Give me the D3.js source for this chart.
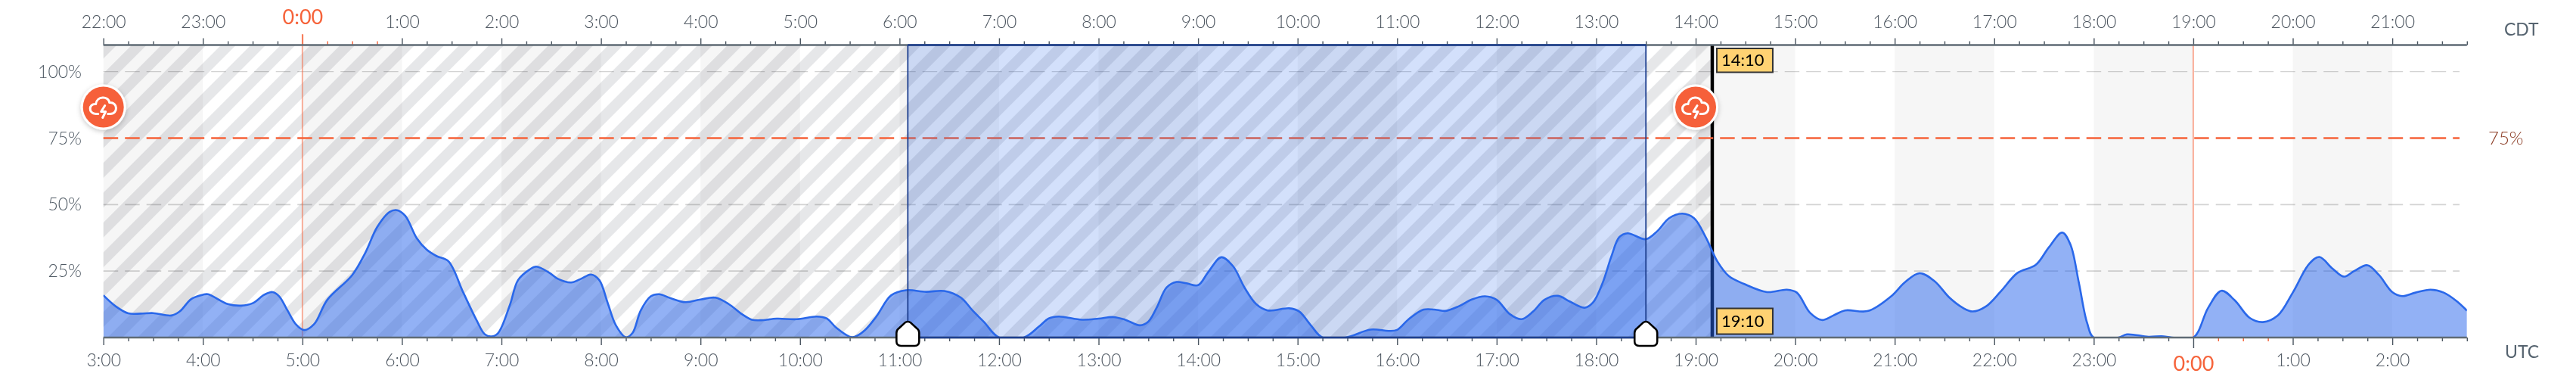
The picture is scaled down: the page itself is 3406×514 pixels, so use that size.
<!DOCTYPE html>
<html><head><meta charset="utf-8">
<script src="https://cdn.jsdelivr.net/npm/d3@7"></script>
<style>html,body{margin:0;padding:0;background:#fff}svg{display:block}text{font-family:Lato,"Open Sans",sans-serif}</style>
</head><body><svg id="c" width="3406" height="514"></svg>
<script>
const cdtLabels=["22:00","23:00","0:00","1:00","2:00","3:00","4:00","5:00","6:00","7:00","8:00","9:00","10:00","11:00","12:00","13:00","14:00","15:00","16:00","17:00","18:00","19:00","20:00","21:00"];
const utcLabels=["3:00","4:00","5:00","6:00","7:00","8:00","9:00","10:00","11:00","12:00","13:00","14:00","15:00","16:00","17:00","18:00","19:00","20:00","21:00","22:00","23:00","0:00","1:00","2:00"];
const minutes=[0,7.5,15,22.5,30,41,46,53,60,63,75,83,90,97,102,106,111,116,121,127,135,150,158,165,172.5,177,182,189,195,201,208,217,225,230,234,238,245,250,
257,261,269,274,282,288,294,299,304,309,315,319,324,330,335,342,351,360,369,377,385,391,396,406,418,430,436,442,450,453,459,466,475,484,496,507,517,524,531,
540,555,564,570,576,590,600,609,616,625,630,635,641,647,653,660,666,674,681,688,695,702,715,721,728,735,749,764,775,780,787,796,804,
809,817,825,833,840,848,855,862,869,877,884,893,898,904,909,914,919,930,937,944,952,959,966,973,980,989,1003,1015,1021,1029,1036,1043,1050,1064,1078,
1086,1095,1104,1113,1121,1127,1135,1144,1154,1165,1173,1181,1186,1191,1196,1200,1215,1220,1233,1241,1247,1260,1269,1277,1285,1294,1302,1311,1320,1330,1336,1344,1351,1357,1365,1372,1380,1386,1394,1403,1411,1419,1425];
const usage=[15.9,11.7,9.1,9,9.2,8.3,9.8,14.5,16.1,16.3,12.6,12,12.9,16.1,17.1,15.5,10.2,5,2.8,5,14.2,23.5,32,41.5,47.2,47.9,45.8,37.3,33,30.6,28.7,16.9,6.5,1.2,.4,1.7,12.1,21.6,
25.6,26.7,24.3,22.1,20.7,22.1,23.7,21.6,13.1,4.6,.1,1.7,10.2,15.5,16.3,14.8,13.3,14.3,15,12.6,8.8,6.7,6.5,7.1,6.9,7.9,7.2,3.6,.3,.3,2.7,7.9,15.9,17.8,17.2,17.5,15,10.2,5.8,
0,0,4.1,7.2,7.9,6.7,7.1,7.7,6.7,4.6,6,11.2,18.8,20.9,20.4,19.7,24.5,30.2,26.9,18.8,12.6,10.2,11,9.8,4.6,0,0,3,2.5,2.9,6.9,10.5,10.4,
10,11.7,14.3,15.5,14.2,8.8,6.9,9.8,14.3,15.7,13.6,11.2,13.1,20.7,30.2,37.8,39.2,37,40.1,44.9,46.6,44.9,37.8,28.7,23.1,20.2,17.1,18,16.9,9.3,6.6,8.3,10.2,10,15.6,
20.7,24.2,21.2,15,11.2,9.8,11.7,17.4,24.3,27.3,34,39.5,34.9,20.7,5.5,0,0,1.2,.3,.5,0,0,11.2,17.6,14,7.4,5.8,8.3,16.9,27.8,30.3,25.9,22.9,25,27.2,23.5,17.1,15.6,16.9,18,16.9,13.6,10.1];
const yTicks=[100,75,50,25];
const selection=[485,930];
const nowMinute=970;
const nowLabels=["14:10","19:10"];
const alertMinutes=[0,960];
const domainEnd=1425, threshold=75;

const svg=d3.select("#c");
const x=d3.scaleLinear().domain([0,domainEnd]).range([136.7,3261.8]);
const y=d3.scaleLinear().domain([0,100]).range([446,94.7]);
const top_=59.5, base=446;
const hours=d3.range(0,24).map(i=>i*60);
const quarters=d3.range(0,domainEnd+1,15).filter(m=>m%60);

const defs=svg.append("defs");
function hatch(id,tile,tx){
 const pat=defs.append("pattern").attr("id",id).attr("patternUnits","userSpaceOnUse").attr("width",tile).attr("height",tile).attr("patternTransform",`translate(${tx},0) rotate(45)`);
 pat.append("rect").attr("width",tile/2).attr("height",tile).attr("fill","#e6e7e9");
}
hatch("hatchA",27.86,194.3);
hatch("hatchB",28.28,2260);
const sh=defs.append("filter").attr("id","sh").attr("x","-30%").attr("y","-30%").attr("width","160%").attr("height","160%");
sh.append("feDropShadow").attr("dx",0).attr("dy",2).attr("stdDeviation",3).attr("flood-color","#000").attr("flood-opacity",.22);
defs.append("clipPath").attr("id","plot").append("rect").attr("x",x(0)).attr("y",top_).attr("width",x(domainEnd)-x(0)).attr("height",base-top_);

// alternating hour bands
svg.append("g").selectAll("rect").data(hours.filter(h=>h%120===0)).join("rect")
 .attr("x",d=>x(d)).attr("width",d=>x(Math.min(d+60,domainEnd))-x(d)).attr("y",top_).attr("height",base-top_).attr("fill","#000").attr("opacity",.036);
// hatch
svg.append("rect").attr("x",x(0)).attr("y",top_).attr("width",x(selection[1])-x(0)).attr("height",base-top_).attr("fill","url(#hatchA)").style("mix-blend-mode","multiply");
svg.append("rect").attr("x",x(selection[1])).attr("y",top_).attr("width",x(nowMinute)-x(selection[1])).attr("height",base-top_).attr("fill","url(#hatchB)").style("mix-blend-mode","multiply");
// now line
svg.append("line").attr("x1",x(nowMinute)).attr("x2",x(nowMinute)).attr("y1",top_).attr("y2",base).attr("stroke","#000").attr("stroke-width",4.5);
// grid
const dashLine=(v,c,w)=>svg.append("line").attr("x1",x(0)).attr("x2",3252).attr("y1",y(v)).attr("y2",y(v)).attr("stroke",c).attr("stroke-width",w).attr("stroke-dasharray","19.5 9");
yTicks.filter(v=>v!==threshold).forEach(v=>dashLine(v,"#000",v===100?1.2:1.8).attr("opacity",.17));
dashLine(threshold,"#f6633a",2.6);
// midnight markers
[120,1260].forEach((m,i)=>svg.append("line").attr("x1",x(m)).attr("x2",x(m)).attr("y1",i?top_:45).attr("y2",base).attr("stroke","#f6633a").attr("stroke-width",2).attr("opacity",.5));
// selection fill
svg.append("rect").attr("x",x(selection[0])).attr("y",top_).attr("width",x(selection[1])-x(selection[0])).attr("height",base-top_).attr("fill","#2563eb").attr("opacity",.2);
// area
const pts=minutes.map((m,i)=>[m,usage[i]]);
const curve=d3.curveCatmullRom.alpha(0.5);
const plot=svg.append("g").attr("clip-path","url(#plot)");
plot.append("path").datum(pts).attr("fill","#2563eb").attr("opacity",.5)
 .attr("d",d3.area().x(d=>x(d[0])).y0(base).y1(d=>y(d[1])).curve(curve));
plot.append("path").datum(pts).attr("fill","none").attr("stroke","#2a68ea").attr("stroke-width",2.6)
 .attr("d",d3.line().x(d=>x(d[0])).y(d=>y(d[1])).curve(curve));

// axes
function axis(gen,ty,labels,major,minor,red,dyLabel){
 const g=svg.append("g").attr("transform",`translate(0,${ty})`);
 const a=g.append("g").call(gen(x).tickValues(hours).tickSize(major).tickSizeOuter(0).tickFormat((d,i)=>labels[i]));
 a.select(".domain").remove();
 a.selectAll(".tick line").attr("stroke","#4a5560").attr("stroke-width",1.4);
 a.selectAll(".tick text").attr("fill","#4d5660").style("font-size","23px").style("font-weight",300).attr("y",dyLabel).attr("dy",0);
 const b=g.append("g").call(gen(x).tickValues(quarters).tickSize(minor).tickSizeOuter(0).tickFormat(""));
 b.select(".domain").remove();
 b.selectAll(".tick line").attr("stroke",d=>d>red&&d<red+60?"#f6633a":"#4a5560").attr("stroke-width",1.4);
 g.append("line").attr("x1",x(0)).attr("x2",x(domainEnd)).attr("stroke","#5f6b75").attr("stroke-width",2.4);
 g.append("line").attr("x1",x(selection[0])).attr("x2",x(selection[1])).attr("stroke","#1d3f8f").attr("stroke-width",2.6);
 a.selectAll(".tick").filter(d=>d===red).each(function(){
   const t=d3.select(this);
   t.select("text").attr("fill","#f6633a").style("font-weight",400).style("font-size","27px");
 });
 return a;
}
const ta=axis(d3.axisTop,59.5,cdtLabels,9,5,120,-22.5);
ta.selectAll(".tick").filter(d=>d===120).select("text").attr("y",-27.5);
ta.selectAll(".tick").filter(d=>d===120).select("line").attr("stroke","#f6633a").attr("y2",-14);
const ba=axis(d3.axisBottom,446,utcLabels,10,5,1260,38);
ba.selectAll(".tick").filter(d=>d===1260).select("text").attr("y",44);
ba.selectAll(".tick").filter(d=>d===1260).select("line").attr("y2",14);

// selection edges and handles
selection.forEach(m=>{
 svg.append("line").attr("x1",x(m)).attr("x2",x(m)).attr("y1",top_).attr("y2",base).attr("stroke","#1d3f8f").attr("stroke-width",1.8);
 svg.append("path").attr("transform",`translate(${x(m)},425)`).attr("fill","#fff").attr("stroke","#000").attr("stroke-width",2.6).attr("stroke-linejoin","round")
  .attr("d","M0,0 Q2,0 4,1.6 L12,9 Q15,11 15,15 L15,26 Q15,32 9,32 L-9,32 Q-15,32 -15,26 L-15,15 Q-15,11 -12,9 L-4,1.6 Q-2,0 0,0Z");
});

// y labels
svg.append("g").selectAll("text").data(yTicks).join("text").attr("x",108).attr("y",d=>y(d)+8).attr("text-anchor","end")
 .attr("fill","#4f5a64").style("font-size","23px").style("font-weight",300).text(d=>d+"%");
svg.append("text").attr("x",3290).attr("y",y(threshold)+8.5).attr("fill","#8a3a22").style("font-size","24px").style("font-weight",300).text(threshold+"%");
svg.append("text").attr("x",3311).attr("y",46.7).attr("fill","#55636f").style("font-size","23px").text("CDT");
svg.append("text").attr("x",3312).attr("y",473).attr("fill","#55636f").style("font-size","23px").text("UTC");

// now labels
[[64,31.5,86.7],[407.5,34,431.5]].forEach(([by,bh,tb],i)=>{
 svg.append("rect").attr("x",x(nowMinute)+6).attr("y",by).attr("width",74).attr("height",bh).attr("fill","#ffd272").attr("stroke","#333").attr("stroke-width",2);
 svg.append("text").attr("x",x(nowMinute)+12).attr("y",tb).attr("fill","#000").style("font-size","22px").text(nowLabels[i]);
});

// alert icons
alertMinutes.forEach(m=>{
 const g=svg.append("g").attr("transform",`translate(${x(m)},141.5)`);
 g.append("circle").attr("r",30).attr("fill","#fff").attr("filter","url(#sh)");
 g.append("circle").attr("r",27).attr("fill","#f6603a");
 g.append("path").attr("fill","none").attr("stroke","#fff").attr("stroke-width",3).attr("stroke-linecap","round").attr("stroke-linejoin","round")
  .attr("d","M-7,9 L-10,9 C-20,9 -20,-5 -10,-4 C-9,-15 7,-15 8,-6 C19,-7 20,9 9,9 L6,9");
 g.append("path").attr("fill","none").attr("stroke","#fff").attr("stroke-width",3).attr("stroke-linecap","round").attr("stroke-linejoin","round")
  .attr("d","M2,-2 L-3,6 L3,6 L-1,14");
});
</script></body></html>
